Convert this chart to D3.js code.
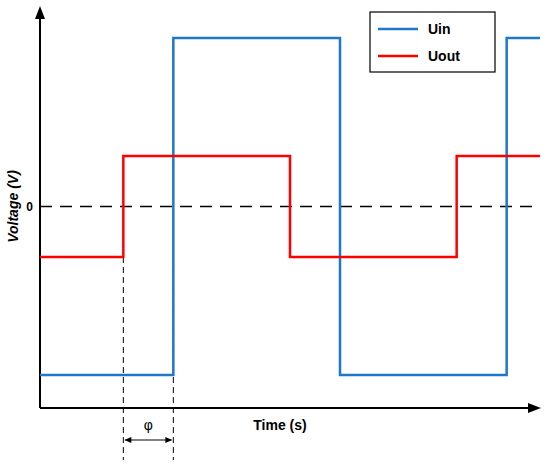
<!DOCTYPE html>
<html><head><meta charset="utf-8">
<script src="https://cdn.jsdelivr.net/npm/d3@7"></script>
<style>body{margin:0;background:#fff}</style></head>
<body><svg id="c" width="550" height="464"></svg>
<script>
const timeSteps=[0,8,18,28,30];
const uinLevels=[-1,1,-1,1,1];
const uoutSteps=[0,5,15,25,30];
const uoutLevels=[-0.3,0.3,-0.3,0.3,0.3];
const seriesNames=["Uin","Uout"];
const colors=["#1f77c8","#ff0000"];
const svg=d3.select("#c");
const x=d3.scaleLinear().domain([0,30]).range([40,540]);
const y=d3.scaleLinear().domain([-1,1]).range([375,38]);
const y0=408, x0=40;
// axes
svg.append("line").attr("x1",x0).attr("y1",y0).attr("x2",530).attr("y2",y0).attr("stroke","#000").attr("stroke-width",2);
svg.append("path").attr("d",`M541,${y0} L528,${y0-5} L528,${y0+5}Z`).attr("fill","#000");
svg.append("line").attr("x1",x0).attr("y1",y0).attr("x2",x0).attr("y2",18).attr("stroke","#000").attr("stroke-width",2);
svg.append("path").attr("d",`M${x0},6 L${x0-5},19 L${x0+5},19Z`).attr("fill","#000");
// zero dashed
svg.append("line").attr("x1",x0).attr("x2",540).attr("y1",y(0)).attr("y2",y(0)).attr("stroke","#000").attr("stroke-width",1.5).attr("stroke-dasharray","12,8");
svg.append("text").attr("x",33).attr("y",y(0)+4).attr("text-anchor","end").attr("font-family","Arial, Liberation Sans").attr("font-weight","bold").attr("font-size",12).text("0");
// phase markers
[5,8].forEach(t=>svg.append("line").attr("x1",x(t)).attr("x2",x(t)).attr("y1",y(uoutLevels[0])).attr("y2",460).attr("stroke","#000").attr("stroke-width",1).attr("stroke-dasharray","6,4"));
svg.append("line").attr("x1",x(5)+2).attr("x2",x(8)-2).attr("y1",440).attr("y2",440).attr("stroke","#000");
svg.append("path").attr("d",`M${x(5)+1},440 l7,-3 v6z M${x(8)-1},440 l-7,-3 v6z`).attr("fill","#000");
svg.append("text").attr("x",(x(5)+x(8))/2).attr("y",430).attr("text-anchor","middle").attr("font-family","Arial, Liberation Sans").attr("font-size",14).text("φ");
// series
const line=d3.line().x(d=>x(d[0])).y(d=>y(d[1])).curve(d3.curveStepAfter);
[[timeSteps,uinLevels],[uoutSteps,uoutLevels]].forEach((s,i)=>{
 svg.append("path").datum(s[0].map((t,j)=>[t,s[1][j]])).attr("d",line).attr("fill","none").attr("stroke",colors[i]).attr("stroke-width",2.5);
});
// labels
svg.append("text").attr("x",280).attr("y",430).attr("text-anchor","middle").attr("font-family","Arial, Liberation Sans").attr("font-weight","bold").attr("font-size",14).text("Time (s)");
svg.append("text").attr("transform",`translate(18,${y(0)}) rotate(-90)`).attr("text-anchor","middle").attr("font-family","Arial, Liberation Sans").attr("font-weight","bold").attr("font-style","italic").attr("font-size",14).text("Voltage (V)");
// legend
svg.append("rect").attr("x",370).attr("y",12).attr("width",125).attr("height",60).attr("fill","#fff").attr("stroke","#000").attr("stroke-width",1.2);
seriesNames.forEach((n,i)=>{
 const yy=29+i*27;
 svg.append("line").attr("x1",378).attr("x2",418).attr("y1",yy).attr("y2",yy).attr("stroke",colors[i]).attr("stroke-width",2.5);
 svg.append("text").attr("x",428).attr("y",yy+5).attr("font-family","Arial, Liberation Sans").attr("font-weight","bold").attr("font-size",14).text(n);
});
</script></body></html>
